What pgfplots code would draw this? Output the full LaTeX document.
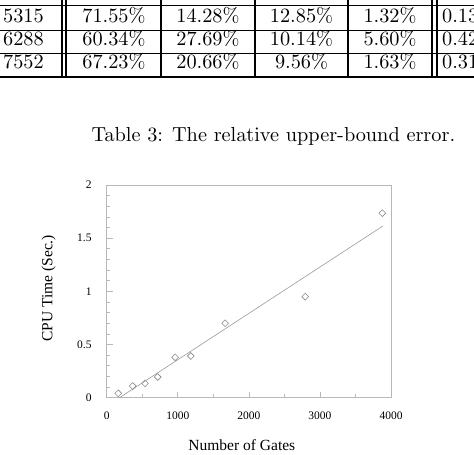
\documentclass[border=0pt]{standalone}
\usepackage{pgfplots}
\pgfplotsset{compat=1.18}
\usepackage{fontspec}
\newfontfamily\timesfont{Liberation Serif}
\newcommand\tickfont{\timesfont\fontsize{11.5bp}{14bp}\selectfont}
\newcommand\labfont{\timesfont\fontsize{15.5bp}{18bp}\selectfont}
\font\tabfont=cmr10 at 20.3bp
\definecolor{axgray}{HTML}{B8B8B8}
\definecolor{markgray}{HTML}{8A8A8A}
\definecolor{linegray}{HTML}{9A9A9A}
\begin{document}
\begin{tikzpicture}[x=1bp,y=1bp]
\useasboundingbox (0,0) rectangle (474,455);
\clip (0,0) rectangle (474,455);
% table fragment
\begin{scope}[line width=1.2bp]
\foreach \yy in {449.5,424.5,401.5,378} \draw (-5,\yy) -- (480,\yy);
\foreach \xx in {62,66,161,255,348,432,437} \draw (\xx,378) -- (\xx,460);
\end{scope}
\foreach \yy/\a/\b/\c/\d/\e/\f in {432.3/5315/71.55/14.28/12.85/1.32/0.13, 409.3/6288/60.34/27.69/10.14/5.60/0.42, 386/7552/67.23/20.66/9.56/1.63/0.31}{
  \node[anchor=base west, inner sep=0] at (3,\yy) {\tabfont \a};
  \node[anchor=base, inner sep=0] at (114,\yy) {\tabfont \b\%};
  \node[anchor=base, inner sep=0] at (208,\yy) {\tabfont \c\%};
  \node[anchor=base, inner sep=0] at (301.5,\yy) {\tabfont \d\%};
  \node[anchor=base, inner sep=0] at (390,\yy) {\tabfont \e\%};
  \node[anchor=base west, inner sep=0] at (442,\yy) {\tabfont \f\%};
}
\node[anchor=base, inner sep=0] at (273.5,313) {\tabfont Table 3: The relative upper-bound error.};
\begin{axis}[
  at={(106.7bp,57.3bp)}, anchor=south west,
  scale only axis, width=284.3bp, height=212.7bp,
  xmin=0, xmax=4000, ymin=0, ymax=2,
  xtick={0,1000,2000,3000,4000}, ytick={0,0.5,1,1.5,2},
  minor x tick num=1, minor y tick num=4,
  tick align=inside, xtick pos=bottom, ytick pos=left,
  major tick length=6bp, minor tick length=3.5bp,
  axis line style={draw=axgray, line width=0.7bp},
  every tick/.style={draw=axgray, line width=0.7bp},
  /pgf/number format/assume math mode=true,
  /pgf/number format/1000 sep={},
  xticklabel={\tickfont\pgfmathprintnumber{\tick}},
  yticklabel={\tickfont\pgfmathprintnumber{\tick}},
  tick label style={inner sep=0pt},
  xticklabel style={anchor=north, yshift=-14bp},
  yticklabel style={anchor=east, xshift=-15bp},
  xlabel={\labfont Number of Gates}, ylabel={\labfont CPU Time (Sec.)},
  every axis x label/.style={at={(axis description cs:0.5,0)}, anchor=center, inner sep=0pt, xshift=-7bp, yshift=-47.7bp},
  every axis y label/.style={at={(axis description cs:0,0.5)}, anchor=center, inner sep=0pt, xshift=-58bp, yshift=3bp, rotate=90},
]
\addplot[only marks, mark=square, mark size=2.4bp, mark options={rotate=45, draw=markgray, line width=0.6bp}] coordinates {
(163,0.041) (366,0.11) (539,0.135) (718,0.195) (962,0.38) (1183,0.392) (1666,0.70) (2793,0.95) (3877,1.735)};
\addplot[no marks, draw=linegray, line width=0.6bp] coordinates {(181,0) (3887,1.615)};
\end{axis}
\end{tikzpicture}
\end{document}
